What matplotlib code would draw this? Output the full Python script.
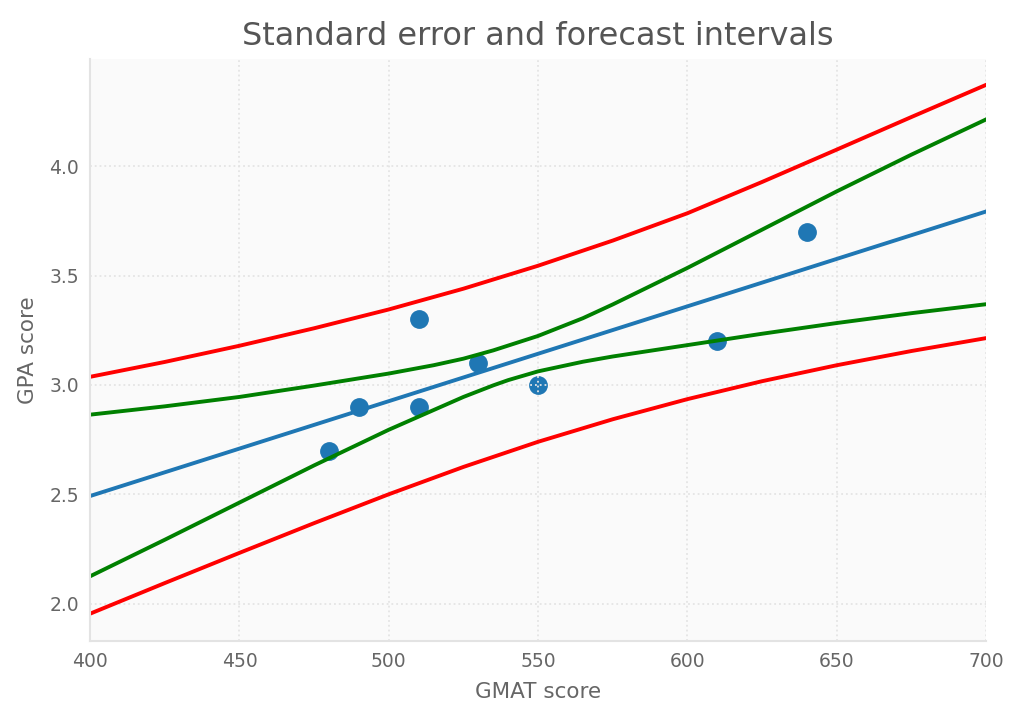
import matplotlib
matplotlib.use("Agg")
import matplotlib.pyplot as plt

plt.rcParams.update({
    "font.family": ["DejaVu Sans"],
    "axes.spines.top": False,
    "axes.spines.right": False,
})

TEXT = "#555555"
TICK = "#666666"
BLUE = "#1f77b4"

# observed data
gmat = [480, 490, 510, 510, 530, 550, 610, 640]
gpa = [2.7, 2.9, 2.9, 3.3, 3.1, 3.0, 3.2, 3.7]

# fitted line (read at the ends)
fit_x = [400, 700]
fit_y = [2.492, 3.793]

# standard error band (green)
se_x = [400, 425, 450, 475, 500, 515, 525, 535, 540, 550, 565, 575, 600, 625, 650, 675, 700]
se_hi = [2.864, 2.902, 2.945, 2.997, 3.052, 3.090, 3.120, 3.158, 3.180, 3.224, 3.305, 3.368,
         3.535, 3.710, 3.885, 4.053, 4.214]
se_lo = [2.125, 2.292, 2.462, 2.632, 2.795, 2.885, 2.945, 2.998, 3.022, 3.062, 3.106, 3.130,
         3.182, 3.234, 3.283, 3.328, 3.369]

# forecast interval (red)
fc_x = [400, 425, 450, 475, 500, 525, 550, 575, 600, 625, 650, 675, 700]
fc_hi = [3.037, 3.105, 3.179, 3.259, 3.345, 3.440, 3.545, 3.660, 3.785, 3.928, 4.076, 4.225, 4.372]
fc_lo = [1.954, 2.094, 2.232, 2.368, 2.500, 2.625, 2.740, 2.843, 2.935, 3.017, 3.090, 3.155, 3.214]

fig = plt.figure(figsize=(10.24, 7.2), dpi=100)
ax = fig.add_axes([0.088, 0.110, 0.875, 0.808])
ax.set_facecolor("#fafafa")

ax.plot(gmat, gpa, "o", color=BLUE, markersize=12.5, zorder=1)
ax.plot(fit_x, fit_y, color=BLUE, lw=2.8, zorder=2)
ax.plot(se_x, se_hi, color="green", lw=2.8, zorder=2)
ax.plot(se_x, se_lo, color="green", lw=2.8, zorder=2)
ax.plot(fc_x, fc_hi, color="red", lw=2.8, zorder=2)
ax.plot(fc_x, fc_lo, color="red", lw=2.8, zorder=2)

ax.set_xlim(400, 700)
ax.set_ylim(1.83, 4.49)
ax.set_xticks([400, 450, 500, 550, 600, 650, 700])
ax.set_yticks([2.0, 2.5, 3.0, 3.5, 4.0])

ax.set_axisbelow("line")
ax.grid(True, linestyle=":", color="#e4e4e4", lw=1.3)
for side in ("left", "bottom"):
    ax.spines[side].set_color("#e3e3e3")
    ax.spines[side].set_linewidth(1.5)
ax.tick_params(length=0, labelsize=13.5, labelcolor=TICK, pad=8)

ax.set_title("Standard error and forecast intervals", fontsize=23, color=TEXT, pad=10)
ax.set_xlabel("GMAT score", fontsize=15.5, color=TICK, labelpad=8)
ax.set_ylabel("GPA score", fontsize=15.5, color=TICK, labelpad=8)

fig.savefig("out.png", dpi=100)
